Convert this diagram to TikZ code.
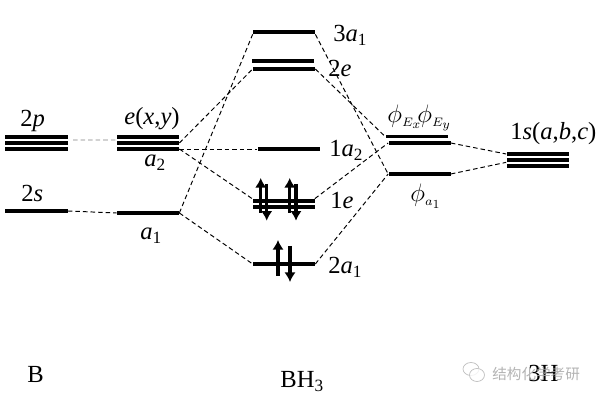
\documentclass[tikz,border=0pt]{standalone}
\usepackage{amsmath}
\usepackage{fontspec}
\setmainfont{Liberation Serif}
\newfontfamily\cjkfont{Noto Sans CJK SC}
\usepackage{tikz}
\usepackage{xcolor}
\usetikzlibrary{arrows.meta}
\newcommand{\subnum}[1]{$_{\mathrm{#1}}$}
\newcommand{\phisub}[1]{$\phi_{\scriptscriptstyle #1}$}
\tikzset{
  orbital/.style={fill=black, inner sep=0pt, minimum width=1.24cm, minimum height=0.08cm},
  link/.style={line width=0.55pt, dash pattern=on 2.6pt off 1.7pt},
  spin/.style={line width=1.9pt, -{Latex[length=5.5pt,width=6.5pt]}},
  tag/.style={inner sep=0pt, anchor=base west, font=\fontsize{14}{16}\selectfont},
}
\begin{document}
\begin{tikzpicture}
\useasboundingbox (0,0) rectangle (12,8);
% B levels
\node [orbital] (p2a) at (0.73,5.26) {};
\node [orbital] (p2b) at (0.73,5.14) {};
\node [orbital] (p2c) at (0.73,5.02) {};
\node [orbital, minimum height=0.07cm] (s2) at (0.73,3.78) {};
\node [orbital] (ea) at (2.96,5.26) {};
\node [orbital] (eb) at (2.96,5.14) {};
\node [orbital] (ec) at (2.96,5.02) {};
\node [orbital, minimum height=0.09cm] (a1b) at (2.96,3.74) {};
% BH3 levels
\node [orbital] (a3) at (5.68,7.36) {};
\node [orbital] (e2a) at (5.65,6.78) {};
\node [orbital] (e2b) at (5.68,6.62) {};
\node [orbital] (a21) at (5.77,5.02) {};
\node [orbital] (e1a) at (5.67,3.98) {};
\node [orbital] (e1b) at (5.67,3.866) {};
\node [orbital] (a12) at (5.68,2.72) {};
% H levels
\node [orbital, minimum height=0.06cm] (phia) at (8.34,5.26) {};
\node [orbital, minimum height=0.07cm] (phib) at (8.39,5.14) {};
\node [orbital, minimum height=0.07cm] (phic) at (8.39,4.52) {};
\node [orbital] (s1a) at (10.75,4.92) {};
\node [orbital] (s1b) at (10.75,4.80) {};
\node [orbital] (s1c) at (10.75,4.68) {};
% connectors
\coordinate (p2end) at (1.46,5.20);
\draw [link, gray] (p2end) -- ([yshift=0.06cm]eb.west);
\draw [link] (s2.east) -- (a1b.west);
\draw [link] (eb.east) -- (e2b.west);
\draw [link] (ec.east) -- (a21.west);
\draw [link] (ec.east) -- (e1a.north west);
\draw [link] (a1b.east) -- (a3.south west);
\draw [link] (a1b.east) -- (a12.west);
\draw [link] (a3.south east) -- (phic.west);
\draw [link] (e2b.east) -- (phia.west);
\draw [link] (e1a.north east) -- (phib.west);
\draw [link] (a12.east) -- (phic.west);
\draw [link] (phib.east) -- (s1a.west);
\draw [link] (phic.east) -- (s1b.south west);
% electrons
\draw [spin] (5.214,3.74) -- (5.214,4.44);
\draw [spin] (5.334,4.32) -- (5.334,3.586);
\draw [spin] (5.794,3.74) -- (5.794,4.44);
\draw [spin] (5.92,4.32) -- (5.92,3.586);
\draw [spin] (5.56,2.48) -- (5.56,3.2);
\draw [spin] (5.8,3.08) -- (5.8,2.36);
% labels
\node [tag] (t2p) at (0.40,5.46) {2\textit{p}};
\node [tag] (texy) at (2.48,5.50) {\textit{e}(\textit{x},\textit{y})};
\node [tag] (ta2) at (2.88,4.66) {\textit{a}\subnum{2}};
\node [tag] (t2s) at (0.42,3.96) {2\textit{s}};
\node [tag] (ta1) at (2.80,3.20) {\textit{a}\subnum{1}};
\node [tag] (t3a1) at (6.66,7.16) {3\textit{a}\subnum{1}};
\node [tag] (t2e) at (6.56,6.46) {2\textit{e}};
\node [tag] (t1a2) at (6.58,4.86) {1\textit{a}\subnum{2}};
\node [tag] (t1e) at (6.60,3.82) {1\textit{e}};
\node [tag] (t2a1) at (6.56,2.52) {2\textit{a}\subnum{1}};
\node [tag] (tex) at (7.74,5.55) {\phisub{E_x}};
\node [tag] (tey) at (8.34,5.55) {\phisub{E_y}};
\node [tag] (tpa) at (8.20,3.97) {\phisub{a_1}};
\node [tag] (t1s) at (10.20,5.20) {1\textit{s}(\textit{a},\textit{b},\textit{c})};
\node [tag] (tb) at (0.54,0.34) {B};
\node [tag] (tbh) at (5.60,0.24) {BH\subnum{3}};
\node [tag] (th) at (10.56,0.36) {3H};
% watermark
\draw [gray!50, fill=white, fill opacity=0.6] (9.42,0.62) ellipse (0.16cm and 0.13cm);
\draw [gray!50, fill=white, fill opacity=0.8] (9.54,0.50) ellipse (0.15cm and 0.13cm);
\node [inner sep=0pt, anchor=west, text=gray!70, text opacity=0.85, font=\cjkfont\fontsize{8.3}{10}\selectfont] (mark) at (9.84,0.52) {结构化学考研};
\end{tikzpicture}
\end{document}
